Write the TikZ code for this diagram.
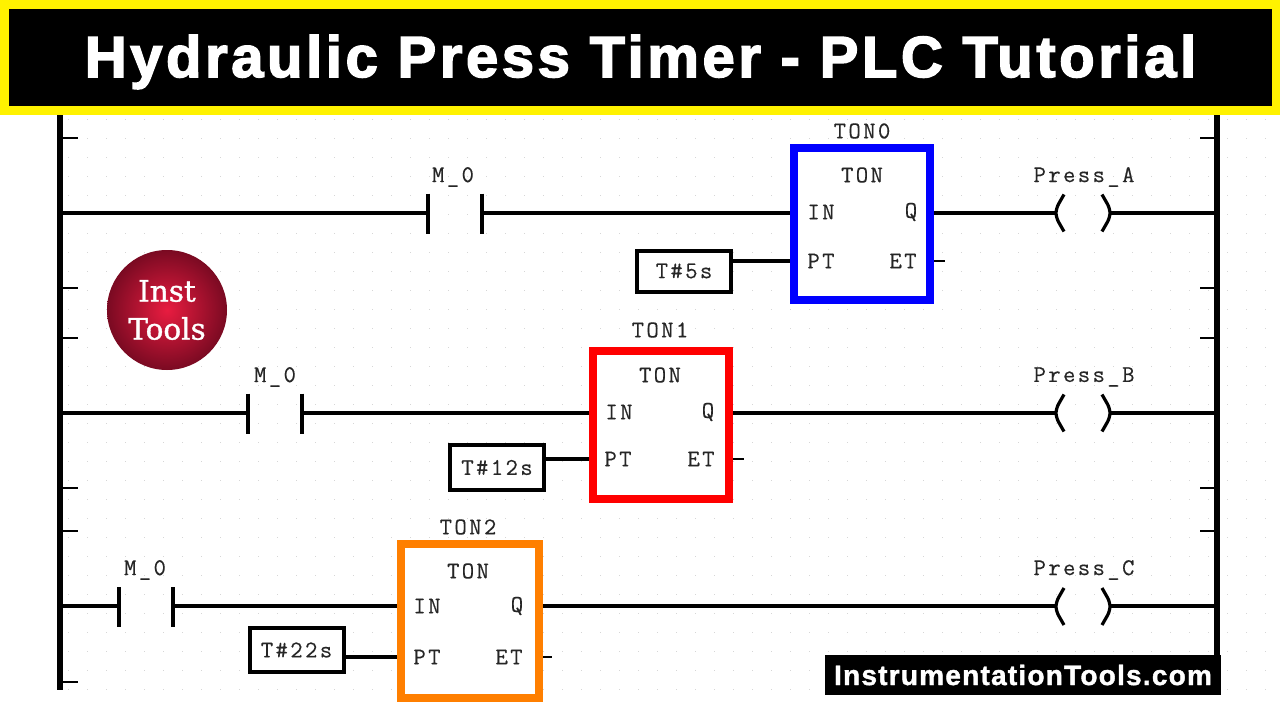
\documentclass[tikz,border=0pt]{standalone}
\usepackage{fontspec}
\setmainfont{Liberation Sans}
\newfontfamily\plcfont[LetterSpace=10,FakeBold=0.3]{Latin Modern Mono}
\newfontfamily\logofont[FakeBold=1.2]{DejaVu Serif}
\newfontfamily\titlefont[LetterSpace=6.2,FakeBold=2.6]{Liberation Sans Bold}
\newfontfamily\markfont[LetterSpace=4.4,FakeBold=1.5]{Liberation Sans Bold}
\definecolor{plcorange}{HTML}{FF7F00}
\definecolor{logoin}{HTML}{E81C40}
\definecolor{logoout}{HTML}{7A0A22}
\definecolor{griddot}{gray}{0.84}
\definecolor{plctext}{gray}{0.15}
\tikzset{
  wire/.style={line width=4pt,black},
  thinwire/.style={line width=1.6pt,black},
  rail/.style={line width=6.5pt,black},
  bar/.style={line width=3.2pt,black},
  paren/.style={line width=3.2pt,black,rounded corners=5pt},
  tick/.style={line width=1.6pt,black},
  plc/.style={inner sep=0pt,text=plctext,font=\plcfont\fontsize{24}{26}\selectfont},
  tonbox/.style={draw=#1,line width=8pt,fill=white,inner sep=0pt},
  constbox/.style={draw=black,line width=4pt,fill=white,inner sep=0pt,minimum width=94pt,text=plctext,font=\plcfont\fontsize{24}{26}\selectfont},
}
\begin{document}
\begin{tikzpicture}[x=1pt,y=-1pt]
\useasboundingbox (0,0) rectangle (1280,720);
\fill[white] (0,0) rectangle (1280,720);
% background dots
\foreach \gx in {68,87,...,1270}{
  \foreach \gy in {119,138,...,700}{
    \fill[griddot] (\gx,\gy) rectangle ++(1.4,1.4);
  }
}
% rails
\coordinate (railLtop) at (60,115);
\coordinate (railLbot) at (60,690);
\coordinate (railRtop) at (1217,115);
\coordinate (railRbot) at (1217,660);
\draw[rail] (railLtop) -- (railLbot);
\draw[rail] (railRtop) -- (railRbot);
\foreach \ty in {138,288,338,488,531,682}{
  \draw[tick] (railLtop |- 0,\ty) -- (78,\ty);
}
\foreach \ty in {138,288,338,488,531}{
  \draw[tick] (1200,\ty) -- (railRtop |- 0,\ty);
}
% blocks
\node[tonbox=blue,minimum width=136pt,minimum height=152pt] (b0) at (862,224) {};
\node[tonbox=red,minimum width=136pt,minimum height=148pt] (b1) at (661,425) {};
\node[tonbox=plcorange,minimum width=138pt,minimum height=154pt] (b2) at (470,621) {};
% contacts
\foreach \id/\a/\b/\y in {0/428/482/212.5,1/248/302/412.5,2/119/173/606}{
  \coordinate (cl\id) at (\a,\y);
  \coordinate (cr\id) at (\b,\y);
  \draw[bar] (\a,\y-19) -- (\a,\y+21);
  \draw[bar] (\b,\y-19) -- (\b,\y+21);
  \coordinate (pl\id) at (1055,\y);
  \coordinate (pr\id) at (1111,\y);
  \draw[paren] (1064,\y-18) -- (1056,\y-4) -- (1056,\y+5) -- (1064,\y+19);
  \draw[paren] (1102,\y-18) -- (1110,\y-4) -- (1110,\y+5) -- (1102,\y+19);
}
% wires
\foreach \id in {0,1,2}{
  \draw[wire] (railLtop |- cl\id) -- (cl\id);
  \draw[wire] (cr\id) -- (b\id.west |- cr\id);
  \draw[wire] (b\id.east |- pl\id) -- (pl\id);
  \draw[wire] (pr\id) -- (railRtop |- pr\id);
}
% preset boxes
\node[constbox,minimum height=41pt] (k0) at (684,271) {T\#5s};
\node[constbox,minimum height=45pt] (k1) at (497,467.5) {T\#12s};
\node[constbox,minimum height=44pt] (k2) at (296.5,650) {T\#22s};
\coordinate (pt0) at (b0.west |- 0,261);
\coordinate (pt1) at (b1.west |- 0,459);
\coordinate (pt2) at (b2.west |- 0,657);
\coordinate (et0) at (945,261);
\coordinate (et1) at (744,459);
\coordinate (et2) at (552,657);
\foreach \id in {0,1,2}{
  \draw[wire] (k\id.east |- pt\id) -- (pt\id);
  \draw[thinwire] (b\id.east |- et\id) -- (et\id);
}
% block texts
\foreach \id/\lab/\cx/\lt/\tt/\iy/\inx/\qx/\py/\ptx/\etx/\col in {
  a/TON0/862/131/175/212/821/911/261/821/903/0,
  b/TON1/660/330/375/412/619/708/459/618/701/1,
  c/TON2/468/527/571/606/427/517/657/427/509/2}{
  \node[plc] (title\id) at (\cx,\lt) {\lab};
  \node[plc] (type\id) at (\cx,\tt) {TON};
  \node[plc] (in\id) at (\inx,\iy) {IN};
  \node[plc] (q\id) at (\qx,\iy) {Q};
  \node[plc] (ptl\id) at (\ptx,\py) {PT};
  \node[plc] (etl\id) at (\etx,\py) {ET};
}
% contact and coil labels
\node[plc] (m0) at (453,177) {M\_0};
\node[plc] (m1) at (275,377) {M\_0};
\node[plc] (m2) at (145,570) {M\_0};
\node[plc] (pa) at (1084,177) {Press\_A};
\node[plc] (pb) at (1084,377) {Press\_B};
\node[plc] (pc) at (1084,570) {Press\_C};
% logo
\shade[inner color=logoin,middle color=logoin,outer color=logoout] (167,310) circle (60);
\node[inner sep=0pt,text=white,align=center,font=\logofont\fontsize{29.5}{38}\selectfont] (logo) at (167,310) {Inst\\Tools};
% watermark
\node[fill=black,text=white,inner sep=0pt,minimum width=396pt,minimum height=40pt,font=\markfont\fontsize{28}{30}\selectfont] (mark) at (1023,675) {InstrumentationTools.com};
% title
\fill[yellow] (0,0) rectangle (1280,115);
\fill[black] (9,9) rectangle (1272,106);
\node[text=white,inner sep=0pt,font=\titlefont\fontsize{58}{60}\selectfont] (title) at (640.5,62) {Hydraulic Press Timer - PLC Tutorial};
\end{tikzpicture}
\end{document}
